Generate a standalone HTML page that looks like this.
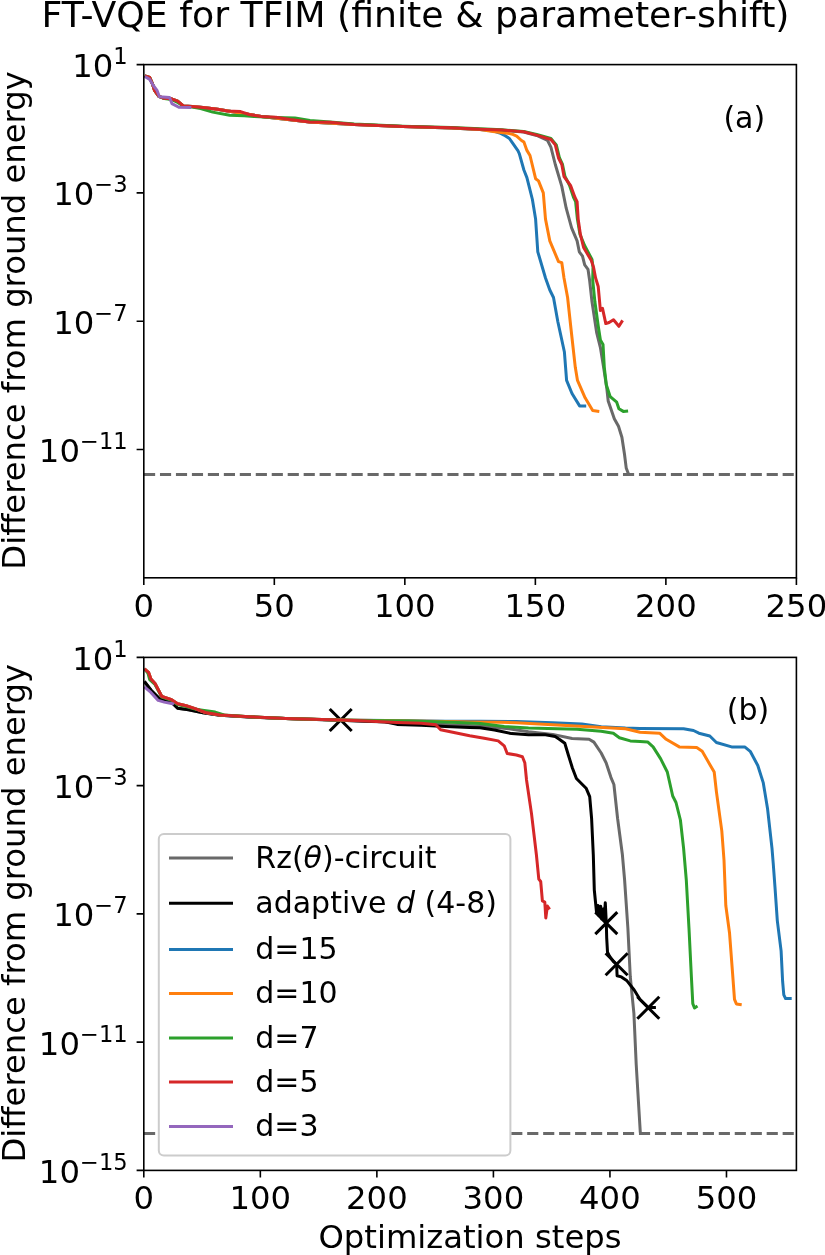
<!DOCTYPE html>
<html lang="en"><head><meta charset="utf-8"><title>FT-VQE for TFIM (finite &amp; parameter-shift)</title>
<style>html,body{margin:0;padding:0;background:#fff}body{width:825px;height:1255px;overflow:hidden}svg{display:block}text{font-family:"DejaVu Sans","Liberation Sans",sans-serif;fill:#000}.it{font-family:"DejaVu Sans","Liberation Sans",sans-serif;font-style:italic}</style></head><body>
<svg width="825" height="1255" viewBox="0 0 825 1255">
<rect width="825" height="1255" fill="#fff"/>
<text x="415.5" y="27.2" text-anchor="middle" font-size="36.25">FT-VQE for TFIM (finite &amp; parameter-shift)</text>
<clipPath id="ca"><rect x="143.8" y="64.6" width="652.5999999999999" height="513.1999999999999"/></clipPath>
<g clip-path="url(#ca)">
<line x1="144" x2="796.4" y1="474.5" y2="474.5" stroke="#696969" stroke-width="3.0" stroke-dasharray="11.15 4.816"/>
<polyline points="144.8,75.8 149.7,77.5 152.6,84.2 154.5,90.3 158.9,96.4 164.2,98.3 171.5,98.8 177.6,101.2 183.6,106.1 192.1,106.5 203.0,107.5 217.6,109.2 261.2,116.5 309.7,122.1 354.2,124.4 402.7,126.6 451.2,128.0 480.0,129.4 501.8,130.3 523.6,132.0 536.7,135.5 547.6,140.5 550.9,147.1 555.3,164.5 561.8,186.4 566.2,208.2 571.6,227.8 577.1,240.9 579.3,251.8 582.5,256.2 584.7,264.9 588.0,269.3 589.6,280.2 592.0,301.8 596.6,332.4 600.4,347.6 603.6,367.3 606.9,389.1 608.2,401.0 614.3,418.7 618.5,426.3 621.9,437.3 624.5,454.3 626.2,467.9 628.4,473.8" fill="none" stroke="#696969" stroke-width="3.0" stroke-linejoin="round" stroke-linecap="butt" />
<polyline points="144.8,75.8 149.7,77.5 152.6,84.2 154.5,90.3 158.9,96.4 164.2,98.3 171.5,98.8 177.6,101.2 183.6,106.1 192.1,106.5 203.0,107.5 217.6,109.2 261.2,116.5 309.7,122.1 354.2,124.4 402.7,126.6 451.2,128.0 480.0,129.4 485.2,130.0 493.1,130.9 499.7,133.0 504.0,135.1 509.4,138.5 511.6,141.6 517.9,150.6 519.3,153.6 523.9,170.0 526.9,177.6 532.4,199.5 535.6,219.1 537.8,251.8 545.5,278.0 549.8,290.0 553.5,297.5 557.8,321.5 564.4,352.0 566.6,380.4 572.0,393.5 579.6,405.9 586.2,405.9" fill="none" stroke="#1f77b4" stroke-width="3.0" stroke-linejoin="round" stroke-linecap="butt" />
<polyline points="144.8,75.8 149.7,77.5 152.6,84.2 154.5,90.3 158.9,96.4 164.2,98.3 171.5,98.8 177.6,101.2 183.6,106.1 192.1,106.5 203.0,107.5 217.6,109.2 261.2,116.5 309.7,122.1 354.2,124.4 402.7,126.6 451.2,128.0 480.0,129.4 493.1,131.4 509.4,133.6 512.7,134.4 516.7,136.1 521.5,140.5 523.9,142.1 526.9,150.4 530.0,155.5 535.6,178.7 538.5,180.9 543.3,192.9 545.5,219.1 549.8,240.9 558.5,261.6 561.8,262.7 564.0,278.0 567.6,297.5 570.9,328.0 575.3,367.3 577.5,380.4 585.1,397.8 592.7,410.5 599.3,411.4" fill="none" stroke="#ff7f0e" stroke-width="3.0" stroke-linejoin="round" stroke-linecap="butt" />
<polyline points="144.8,75.8 149.7,77.8 152.6,84.2 154.8,90.3 158.9,96.4 164.2,98.6 171.5,99.4 177.6,102.5 183.6,106.3 192.1,107.0 200.6,108.5 212.7,112.1 229.7,115.3 244.2,115.8 254.0,116.5 275.8,117.4 295.0,117.9 310.0,120.4 330.0,122.0 354.2,124.0 402.7,126.2 451.2,127.6 480.0,128.8 501.8,129.8 523.6,131.4 536.7,134.5 550.9,138.5 556.3,144.9 559.5,158.0 562.5,164.5 565.0,176.5 569.5,185.3 573.5,197.3 575.6,201.6 577.4,219.1 580.0,234.4 584.6,245.5 592.0,259.5 593.0,267.1 592.7,280.0 594.9,301.8 598.2,325.8 600.4,340.0 603.0,344.4 604.3,367.3 606.3,384.7 610.2,396.7 616.7,402.2 618.9,408.7 623.3,411.4 628.1,410.9" fill="none" stroke="#2ca02c" stroke-width="3.0" stroke-linejoin="round" stroke-linecap="butt" />
<polyline points="144.8,75.8 149.7,77.5 152.6,84.2 154.5,90.3 158.9,96.4 164.2,98.3 171.5,98.8 177.6,101.2 183.6,106.1 192.1,106.5 203.0,107.5 217.6,109.2 227.3,110.9 240.6,111.6 249.1,114.5 261.2,116.5 275.8,117.2 290.3,119.6 309.7,122.1 330.0,122.3 354.2,124.4 402.7,126.4 451.2,127.8 480.0,129.2 501.8,130.1 523.6,131.8 536.7,135.1 550.9,139.5 555.3,144.9 558.5,158.0 561.8,164.5 564.0,176.5 570.5,185.3 574.9,197.3 577.1,201.6 578.2,219.1 580.4,234.4 583.6,247.5 591.3,260.5 593.5,267.1 595.6,278.0 598.2,286.5 600.4,310.5 602.5,308.4 605.8,323.6 609.1,322.5 613.5,319.7 618.9,326.3 622.6,320.4" fill="none" stroke="#d62728" stroke-width="3.0" stroke-linejoin="round" stroke-linecap="butt" />
<polyline points="144.8,76.5 149.7,79.4 153.3,85.5 157.0,90.3 159.4,96.8 169.6,97.6 172.0,103.6 178.8,107.3 191.4,107.5" fill="none" stroke="#9467bd" stroke-width="3.0" stroke-linejoin="round" stroke-linecap="butt" />
</g>
<clipPath id="cb"><rect x="143.8" y="657.4" width="652.5999999999999" height="513.0000000000001"/></clipPath>
<g clip-path="url(#cb)">
<line x1="144" x2="796.4" y1="1133.5" y2="1133.5" stroke="#696969" stroke-width="3.0" stroke-dasharray="11.15 4.816"/>
<polyline points="144.4,681.5 150.9,690.0 159.4,698.5 171.5,702.1 177.6,708.2 188.5,709.7 203.0,712.7 220.0,715.3 249.1,717.0 285.5,718.6 340.0,720.2 397.0,722.6 445.5,724.5 480.0,726.0 509.0,728.8 528.5,731.7 552.7,734.4 572.1,738.5 589.1,739.2 593.9,742.1 601.2,753.0 606.1,762.7 610.9,777.3 613.9,784.5 617.6,818.5 622.4,854.8 624.6,880.0 627.9,928.5 630.3,977.0 633.9,1013.3 636.2,1064.2 638.7,1106.0 640.3,1132.3" fill="none" stroke="#696969" stroke-width="3.0" stroke-linejoin="round" stroke-linecap="butt" />
<polyline points="144.4,681.5 150.9,690.0 159.4,698.5 171.5,702.1 177.6,708.2 188.5,709.7 203.0,712.7 220.0,715.3 249.1,717.0 285.5,718.6 340.0,720.2 360.6,720.9 384.8,721.7 397.0,724.4 421.2,725.3 445.5,726.5 469.7,727.5 480.0,727.8 494.5,730.0 511.5,733.6 528.5,734.8 545.5,734.8 555.2,736.5 560.0,739.7 564.8,743.3 568.5,755.5 572.4,768.0 576.4,778.5 586.1,788.2 589.7,796.7 591.6,818.5 593.3,854.8 594.3,890.0 595.5,902.0 596.5,912.0 598.0,905.5 599.0,915.5 600.7,906.3 601.8,919.0 603.2,909.0 604.0,921.0 605.3,902.7 606.3,923.1 606.7,937.8 607.5,952.2 609.5,956.1 613.5,961.7 616.6,964.3 617.1,975.7 621.4,976.9 627.0,980.8 634.2,990.0 640.0,999.5 648.3,1007.6 655.9,1007.4" fill="none" stroke="#000000" stroke-width="3.0" stroke-linejoin="round" stroke-linecap="butt" />
<path d="M329.7,709.0L351.7,731.0M329.7,731.0L351.7,709.0M595.3,912.1L617.3,934.1M595.3,934.1L617.3,912.1M605.6,953.3L627.6,975.3M605.6,975.3L627.6,953.3M637.3,996.8L659.3,1018.8M637.3,1018.8L659.3,996.8" stroke="#000" stroke-width="3.0" fill="none" stroke-linecap="butt"/>
<polyline points="144.4,668.9 148.5,672.3 150.9,679.1 155.0,683.5 161.8,696.5 171.5,699.7 177.6,703.8 186.1,705.8 195.8,708.9 205.5,712.5 220.0,715.0 249.1,716.7 285.5,718.4 340.0,720.0 409.0,720.8 445.5,721.2 480.0,721.3 516.4,721.6 552.7,722.7 581.8,723.9 601.2,726.8 625.5,728.1 640.0,728.4 683.6,728.8 693.5,730.5 698.9,733.2 709.8,736.0 716.4,742.5 731.6,746.9 744.7,746.9 750.2,751.3 757.8,765.5 763.3,782.9 767.6,809.1 772.0,848.4 773.2,863.0 775.0,887.3 777.3,920.6 781.1,950.9 782.6,981.2 783.8,994.8 785.6,998.6 791.7,998.6" fill="none" stroke="#1f77b4" stroke-width="3.0" stroke-linejoin="round" stroke-linecap="butt" />
<polyline points="144.4,668.9 148.5,672.3 150.9,679.1 155.0,683.5 161.8,696.5 171.5,699.7 177.6,703.8 186.1,705.8 195.8,708.9 205.5,712.5 220.0,715.0 249.1,716.7 285.5,718.4 340.0,720.0 409.0,720.9 445.5,721.5 469.7,721.9 500.0,722.3 516.4,722.7 552.7,724.7 589.1,726.8 625.5,728.8 640.0,732.3 659.6,733.2 666.2,739.3 679.3,746.9 696.7,747.6 702.2,751.3 709.8,764.4 714.2,772.0 716.4,791.6 721.8,830.9 724.0,860.0 725.8,905.5 729.5,932.7 732.6,973.6 734.5,999.4 736.4,1003.9 741.7,1004.7" fill="none" stroke="#ff7f0e" stroke-width="3.0" stroke-linejoin="round" stroke-linecap="butt" />
<polyline points="144.4,668.9 148.0,673.3 149.7,679.6 155.0,684.5 161.8,697.0 171.5,700.4 177.6,704.6 186.1,706.6 195.8,709.3 204.2,710.6 215.2,712.1 224.0,715.0 249.1,716.7 285.5,718.4 340.0,720.0 360.6,720.5 409.0,721.0 445.5,721.9 469.7,723.0 480.0,723.6 504.2,726.4 528.5,728.1 577.0,729.3 601.2,731.2 613.3,733.2 619.4,737.8 630.3,740.9 640.0,741.5 647.6,741.9 653.1,746.9 660.7,758.9 667.3,772.0 672.7,796.0 676.0,802.5 680.4,820.0 683.6,848.4 686.3,880.0 689.0,928.5 691.4,977.0 692.8,1003.6 694.5,1008.0 697.5,1006.1" fill="none" stroke="#2ca02c" stroke-width="3.0" stroke-linejoin="round" stroke-linecap="butt" />
<polyline points="144.4,668.9 148.5,672.3 150.9,679.1 155.0,683.5 161.8,696.5 171.5,699.7 177.6,703.8 186.1,705.8 195.8,708.9 205.5,712.5 220.0,715.0 249.1,716.7 285.5,718.4 340.0,720.0 360.6,720.7 397.0,722.4 421.2,723.2 435.8,724.8 440.6,729.7 469.7,735.8 484.2,738.2 498.2,740.9 504.2,745.8 507.2,753.5 516.4,755.0 522.4,756.7 524.8,762.7 526.5,779.7 527.2,784.5 531.5,813.6 536.4,854.8 538.8,879.1 540.7,881.5 542.4,900.9 544.8,902.1 545.8,918.0 547.4,906.0 549.6,909.3" fill="none" stroke="#d62728" stroke-width="3.0" stroke-linejoin="round" stroke-linecap="butt" />
<polyline points="144.4,686.8 150.9,692.4 158.2,700.4 164.2,702.1 172.7,703.8 173.8,704.6" fill="none" stroke="#9467bd" stroke-width="3.0" stroke-linejoin="round" stroke-linecap="butt" />
</g>
<text x="127.7" y="77.0" text-anchor="end" font-size="32.3">10<tspan font-size="22.61" dy="-12.92">1</tspan></text>
<text x="127.7" y="205.3" text-anchor="end" font-size="32.3">10<tspan font-size="22.61" dy="-12.92">−3</tspan></text>
<text x="127.7" y="333.6" text-anchor="end" font-size="32.3">10<tspan font-size="22.61" dy="-12.92">−7</tspan></text>
<text x="127.7" y="461.9" text-anchor="end" font-size="32.3">10<tspan font-size="22.61" dy="-12.92">−11</tspan></text>
<text x="143.8" y="616.6" text-anchor="middle" font-size="32.3">0</text>
<text x="274.3" y="616.6" text-anchor="middle" font-size="32.3">50</text>
<text x="404.8" y="616.6" text-anchor="middle" font-size="32.3">100</text>
<text x="535.4" y="616.6" text-anchor="middle" font-size="32.3">150</text>
<text x="665.9" y="616.6" text-anchor="middle" font-size="32.3">200</text>
<text x="796.4" y="616.6" text-anchor="middle" font-size="32.3">250</text>
<text x="127.7" y="669.8" text-anchor="end" font-size="32.3">10<tspan font-size="22.61" dy="-12.92">1</tspan></text>
<text x="127.7" y="798.0" text-anchor="end" font-size="32.3">10<tspan font-size="22.61" dy="-12.92">−3</tspan></text>
<text x="127.7" y="926.3" text-anchor="end" font-size="32.3">10<tspan font-size="22.61" dy="-12.92">−7</tspan></text>
<text x="127.7" y="1054.6" text-anchor="end" font-size="32.3">10<tspan font-size="22.61" dy="-12.92">−11</tspan></text>
<text x="127.7" y="1182.8" text-anchor="end" font-size="32.3">10<tspan font-size="22.61" dy="-12.92">−15</tspan></text>
<text x="143.8" y="1209.2" text-anchor="middle" font-size="32.3">0</text>
<text x="260.3" y="1209.2" text-anchor="middle" font-size="32.3">100</text>
<text x="376.9" y="1209.2" text-anchor="middle" font-size="32.3">200</text>
<text x="493.4" y="1209.2" text-anchor="middle" font-size="32.3">300</text>
<text x="609.9" y="1209.2" text-anchor="middle" font-size="32.3">400</text>
<text x="726.5" y="1209.2" text-anchor="middle" font-size="32.3">500</text>
<path d="M143.8,64.60h-7.2M143.8,192.90h-7.2M143.8,321.20h-7.2M143.8,449.50h-7.2M143.80,577.8v7.2M274.32,577.8v7.2M404.84,577.8v7.2M535.36,577.8v7.2M665.88,577.8v7.2M796.40,577.8v7.2M143.8,657.40h-7.2M143.8,785.65h-7.2M143.8,913.90h-7.2M143.8,1042.15h-7.2M143.8,1170.40h-7.2M143.80,1170.4v7.2M260.34,1170.4v7.2M376.87,1170.4v7.2M493.41,1170.4v7.2M609.94,1170.4v7.2M726.48,1170.4v7.2" stroke="#000" stroke-width="1.6" fill="none"/>
<rect x="158.8" y="833.9" width="351.59999999999997" height="321.6" rx="5" ry="5" fill="#fff" stroke="#cccccc" stroke-width="2"/>
<line x1="170.5" x2="231.5" y1="857.9" y2="857.9" stroke="#696969" stroke-width="3.0" stroke-linecap="square"/>
<text x="255.3" y="867.7" font-size="30.0">Rz(<tspan class="it">θ</tspan>)-circuit</text>
<line x1="170.5" x2="231.5" y1="903.3" y2="903.3" stroke="#000000" stroke-width="3.0" stroke-linecap="square"/>
<text x="255.3" y="913.1" font-size="30.0">adaptive <tspan class="it">d</tspan> (4-8)</text>
<line x1="170.5" x2="231.5" y1="949.6" y2="949.6" stroke="#1f77b4" stroke-width="3.0" stroke-linecap="square"/>
<text x="255.3" y="959.4" font-size="30.0">d=15</text>
<line x1="170.5" x2="231.5" y1="993.6" y2="993.6" stroke="#ff7f0e" stroke-width="3.0" stroke-linecap="square"/>
<text x="255.3" y="1003.4" font-size="30.0">d=10</text>
<line x1="170.5" x2="231.5" y1="1037.9" y2="1037.9" stroke="#2ca02c" stroke-width="3.0" stroke-linecap="square"/>
<text x="255.3" y="1047.7" font-size="30.0">d=7</text>
<line x1="170.5" x2="231.5" y1="1082.0" y2="1082.0" stroke="#d62728" stroke-width="3.0" stroke-linecap="square"/>
<text x="255.3" y="1091.8" font-size="30.0">d=5</text>
<line x1="170.5" x2="231.5" y1="1126.4" y2="1126.4" stroke="#9467bd" stroke-width="3.0" stroke-linecap="square"/>
<text x="255.3" y="1136.2" font-size="30.0">d=3</text>
<rect x="143.8" y="64.6" width="652.5999999999999" height="513.1999999999999" fill="none" stroke="#000" stroke-width="1.6"/>
<rect x="143.8" y="657.4" width="652.5999999999999" height="513.0000000000001" fill="none" stroke="#000" stroke-width="1.6"/>
<text x="744.3" y="128.3" text-anchor="middle" font-size="30.0">(a)</text>
<text x="748.0" y="719.6" text-anchor="middle" font-size="30.0">(b)</text>
<text x="470" y="1247.6" text-anchor="middle" font-size="32.25">Optimization steps</text>
<text transform="translate(24.5,320.4) rotate(-90)" text-anchor="middle" font-size="32.25">Difference from ground energy</text>
<text transform="translate(24.5,913.2) rotate(-90)" text-anchor="middle" font-size="32.25">Difference from ground energy</text>
</svg></body></html>
